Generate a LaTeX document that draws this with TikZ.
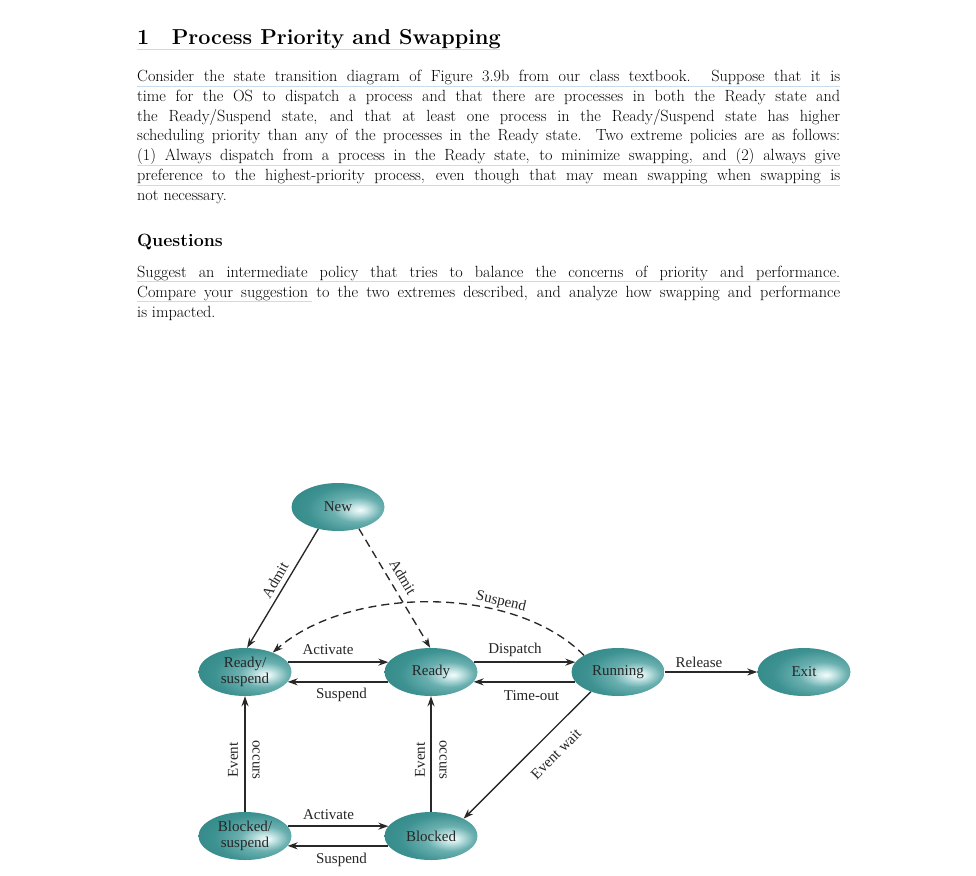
\documentclass[tikz,border=0pt]{standalone}
\usepackage{fontspec}
\newfontfamily\tfont{Liberation Serif}
\usetikzlibrary{shapes.geometric,arrows.meta}
\pgfdeclareradialshading{tealball}{\pgfpoint{12bp}{-3bp}}{%
  rgb(0bp)=(0.96,0.99,0.99);
  rgb(4bp)=(0.8,0.91,0.91);
  rgb(13bp)=(0.42,0.69,0.69);
  rgb(25bp)=(0.24,0.57,0.57);
  rgb(45bp)=(0.16,0.5,0.5);
  rgb(80bp)=(0.13,0.46,0.46)}
\definecolor{uline}{RGB}{200,220,238}
\definecolor{ink}{RGB}{40,40,40}
\tikzset{
  body/.style={anchor=base west,inner sep=0,font=\fontsize{16.2}{19.8}\selectfont},
  state/.style={ellipse,shade,shading=tealball,minimum width=93pt,minimum height=48pt,
    inner sep=0,font=\tfont\fontsize{15}{16.5}\selectfont,align=center,text=black!85},
  lab/.style={font=\tfont\fontsize{15}{16}\selectfont,text=black!85,inner sep=0},
  arr/.style={draw=ink,line width=1.35pt,-{Stealth[length=10pt,width=7pt]}},
  dsh/.style={dash pattern=on 8pt off 5pt},
  ul/.style={draw=uline,line width=0.9pt}
}
\begin{document}
\begin{tikzpicture}[x=1pt,y=-1pt]
\useasboundingbox[fill=white] (0,0) rectangle (976,875);
% heading
\node[anchor=base west,inner sep=0,font=\fontsize{21.6}{26}\selectfont\bfseries] (h1) at (137,45) {1\hspace{22.5pt}Process Priority and Swapping};
\draw[ul] (137,49.5) -- (500,49.5);
% paragraph 1
\draw[ul] (137,86) -- (840,86);
\draw[ul] (137,165.5) -- (840,165.5);
\draw[ul] (137,185.5) -- (840,185.5);
\node[body] (p1) at (137,81.5) {\makebox[703pt][s]{Consider the state transition diagram of Figure 3.9b from our class textbook. Suppose that it is}};
\node[body] (p2) at (137,101.3) {\makebox[703pt][s]{time for the OS to dispatch a process and that there are processes in both the Ready state and}};
\node[body] (p3) at (137,121.1) {\makebox[703pt][s]{the Ready/Suspend state, and that at least one process in the Ready/Suspend state has higher}};
\node[body] (p4) at (137,140.9) {\makebox[703pt][s]{scheduling priority than any of the processes in the Ready state. Two extreme policies are as follows:}};
\node[body] (p5) at (137,160.7) {\makebox[703pt][s]{(1) Always dispatch from a process in the Ready state, to minimize swapping, and (2) always give}};
\node[body] (p6) at (137,180.5) {\makebox[703pt][s]{preference to the highest-priority process, even though that may mean swapping when swapping is}};
\node[body] (p7) at (137,200.3) {not necessary.};
% questions
\node[anchor=base west,inner sep=0,font=\fontsize{17.8}{22}\selectfont\bfseries] (h2) at (137,246.5) {Questions};
\draw[ul] (137,281.5) -- (840,281.5);
\draw[ul] (137,301.5) -- (312,301.5);
\node[body] (q1) at (137,277) {\makebox[703pt][s]{Suggest an intermediate policy that tries to balance the concerns of priority and performance.}};
\node[body] (q2) at (137,297) {\makebox[703pt][s]{Compare your suggestion to the two extremes described, and analyze how swapping and performance}};
\node[body] (q3) at (137,317) {is impacted.};
% states
\node[state] (nw) at (338,507) {New};
\node[state] (rs) at (245,672) {Ready/\\suspend};
\node[state] (rd) at (431,672) {Ready};
\node[state] (rn) at (618,672) {Running};
\node[state] (ex) at (804,672) {Exit};
\node[state] (bs) at (245,836) {Blocked/\\suspend};
\node[state] (bl) at (431,836) {Blocked};
% transitions
\draw[arr] (nw.228) -- (rs.85);
\draw[arr,dsh] (nw.-46) -- (rd.92);
\draw[arr,dsh] (rn.154) .. controls (515,585) and (350,585) .. (rs.35);
\draw[arr] (rs.13) -- (rd.167);
\draw[arr] (rd.193) -- (rs.-13);
\draw[arr] (rd.13) -- (rn.167);
\draw[arr] (rn.193) -- (rd.-13);
\draw[arr] (rn.east) -- (ex.west);
\draw[arr] (rn.216) -- (bl.28);
\draw[arr] (bs.north) -- (rs.south);
\draw[arr] (bl.north) -- (rd.south);
\draw[arr] (bs.13) -- (bl.167);
\draw[arr] (bl.193) -- (bs.-13);
% labels
\node[lab,rotate=60] (l1) at (275,580) {Admit};
\node[lab,rotate=-59.5] (l2) at (403,577) {Admit};
\node[lab,rotate=-13] (l3) at (501,602) {Suspend};
\node[lab] (l4) at (328,650) {Activate};
\node[lab] (l5) at (341.5,695) {Suspend};
\node[lab] (l6) at (515,650) {Dispatch};
\node[lab] (l7) at (531.5,696) {Time-out};
\node[lab] (l8) at (699,662) {Release};
\node[lab,rotate=45.5] (l9) at (556,754) {Event wait};
\node[lab,rotate=90] (l10) at (233,760) {Event};
\node[lab,rotate=-90] (l11) at (256,760) {occurs};
\node[lab,rotate=90] (l12) at (420,760) {Event};
\node[lab,rotate=-90] (l13) at (443,760) {occurs};
\node[lab] (l14) at (328.5,815) {Activate};
\node[lab] (l15) at (341.5,860) {Suspend};
\end{tikzpicture}
\end{document}
